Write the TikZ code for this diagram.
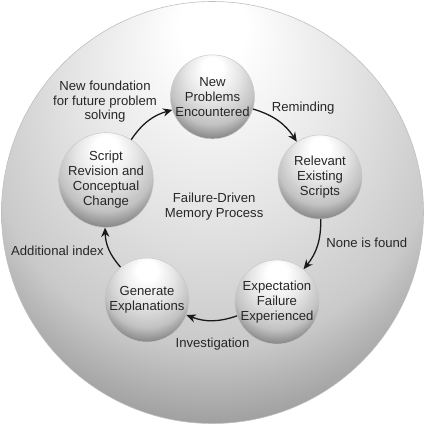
\documentclass[tikz,border=0pt]{standalone}
\usepackage{fontspec}
\setmainfont{Liberation Sans}
\usetikzlibrary{arrows.meta}

\pgfdeclareradialshading{outerglow}{\pgfpoint{0bp}{24bp}}{color(0bp)=(white); color(4bp)=(white); color(16bp)=(black!10); color(27bp)=(black!21); color(33bp)=(black!37); color(50bp)=(black!38)}
\pgfdeclareradialshading{ballglow}{\pgfpoint{0bp}{20bp}}{color(0bp)=(white); color(6bp)=(white); color(16bp)=(black!10); color(26bp)=(black!24); color(32bp)=(black!47); color(50bp)=(black!47)}

\begin{document}
\begin{tikzpicture}[
    stage/.style={circle, minimum size=2.52cm, inner sep=0pt, draw=black!22, line width=0.4pt,
      shade, shading=ballglow, align=center, text=black!85, font=\fontsize{11.2}{12.75}\selectfont},
    note/.style={align=center, text=black!85, font=\fontsize{11.2}{12.75}\selectfont},
    flow/.style={-{Stealth[length=8pt,width=7pt]}, line width=1.1pt, black!90}
  ]
    \useasboundingbox (-6.375,-6.375) rectangle (6.375,6.375);

    % draw outer circle
    \shadedraw[shading=outerglow, draw=black!25, line width=0.5pt] (0,0) circle (6.33cm);

    % draw stages
    \node[stage] (new) at (0,3.47) {New\\Problems\\Encountered};
    \node[stage] (relevant) at (3.225,1.065) {Relevant\\Existing\\Scripts};
    \node[stage] (expect) at (1.935,-2.685) {Expectation\\Failure\\Experienced};
    \node[stage] (explain) at (-1.965,-2.625) {Generate\\Explanations};
    \node[stage] (revise) at (-3.195,0.975) {Script\\Revision and\\Conceptual\\Change};

    % draw arrows
    \draw[flow] (new) to[bend left=20] (relevant);
    \draw[flow] (relevant) to[bend left=20] (expect);
    \draw[flow] (expect) to[bend left=20] (explain);
    \draw[flow] (explain) to[bend left=20] (revise);
    \draw[flow] (revise) to[bend left=20] (new);

    % draw labels
    \node[note] (title) at (0.05,0.17) {Failure-Driven\\Memory Process};
    \node[note] (remind) at (2.72,3.13) {Reminding};
    \node[note] (nonefound) at (4.63,-0.91) {None is found};
    \node[note] (investig) at (0,-3.945) {Investigation};
    \node[note] (addindex) at (-4.65,-1.145) {Additional index};
    \node[note] (foundation) at (-3.225,3.325) {New foundation\\for future problem\\solving};
\end{tikzpicture}
\end{document}
